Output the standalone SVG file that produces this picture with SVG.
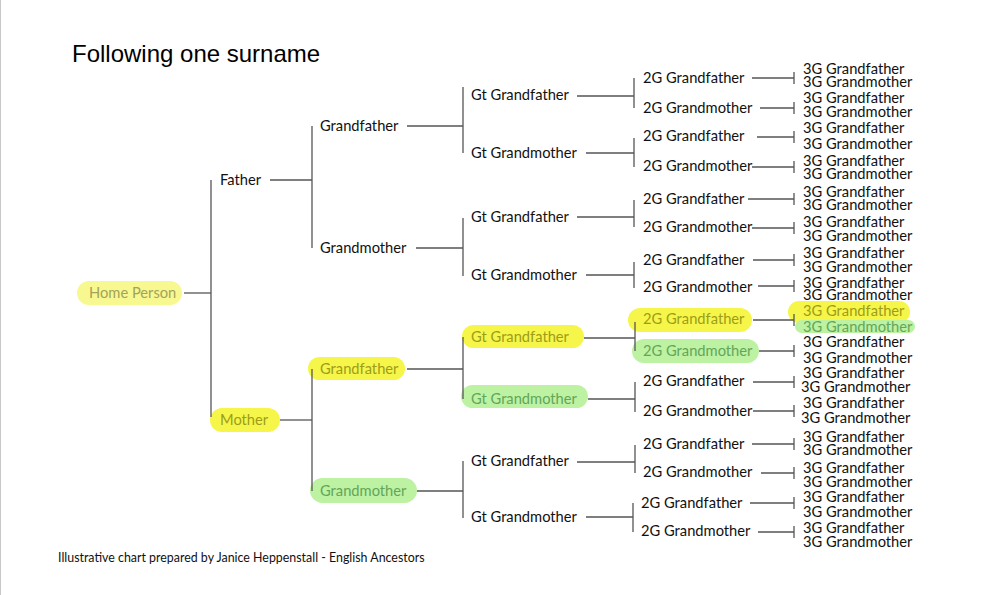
<svg xmlns="http://www.w3.org/2000/svg" width="1000" height="595" viewBox="0 0 1000 595">
<style>
text{font-family:Lato,"Open Sans","Liberation Sans",sans-serif;font-size:14.7px;fill:#111}
.title{font-family:"Liberation Sans",Arial,sans-serif;font-size:24px;fill:#000}
.foot{font-size:12.4px}
.c line{stroke:#555;stroke-width:1.3}
.py{fill:#f6f64a}
.pp{fill:#f8f890}
.pg{fill:#bdf2a2}
.ty{fill:#9d9d18}
.tp{fill:#a3a35a}
.tg{fill:#62a65a}
</style>
<rect x="0" y="0" width="1000" height="595" fill="#fff"/>
<line x1="0.5" y1="0" x2="0.5" y2="595" stroke="#c8c8c8" stroke-width="1"/>
<text class="title" x="72" y="62">Following one surname</text>

<g id="home"><rect class="pp" x="77" y="281" width="105" height="24" rx="12"/><text class="tp" x="89" y="298">Home Person</text></g>
<g id="father"><text x="220" y="185">Father</text></g>
<g id="mother"><rect class="py" x="210" y="408" width="70" height="24" rx="12"/><text class="ty" x="220" y="425">Mother</text></g>

<g id="gf1"><text x="320" y="131">Grandfather</text></g>
<g id="gm1"><text x="320" y="253">Grandmother</text></g>
<g id="gf2"><rect class="py" x="308" y="357" width="97" height="23" rx="11.5"/><text class="ty" x="320" y="374">Grandfather</text></g>
<g id="gm2"><rect class="pg" x="310" y="478" width="107" height="25" rx="12.5"/><text class="tg" x="320" y="496">Grandmother</text></g>

<g id="ggf1"><text x="471" y="100">Gt Grandfather</text></g>
<g id="ggm1"><text x="471" y="158">Gt Grandmother</text></g>
<g id="ggf2"><text x="471" y="222">Gt Grandfather</text></g>
<g id="ggm2"><text x="471" y="280">Gt Grandmother</text></g>
<g id="ggf3"><rect class="py" x="462" y="325" width="122" height="23" rx="11.5"/><text class="ty" x="471" y="342">Gt Grandfather</text></g>
<g id="ggm3"><rect class="pg" x="461" y="385" width="127" height="23" rx="11.5"/><text class="tg" x="471" y="404">Gt Grandmother</text></g>
<g id="ggf4"><text x="471" y="466">Gt Grandfather</text></g>
<g id="ggm4"><text x="471" y="522">Gt Grandmother</text></g>

<g id="g2f1"><text x="643" y="83">2G Grandfather</text></g>
<g id="g2m1"><text x="643" y="113">2G Grandmother</text></g>
<g id="g2f2"><text x="643" y="141">2G Grandfather</text></g>
<g id="g2m2"><text x="643" y="171">2G Grandmother</text></g>
<g id="g2f3"><text x="643" y="204">2G Grandfather</text></g>
<g id="g2m3"><text x="643" y="232">2G Grandmother</text></g>
<g id="g2f4"><text x="643" y="265">2G Grandfather</text></g>
<g id="g2m4"><text x="643" y="292">2G Grandmother</text></g>
<g id="g2f5"><rect class="py" x="628" y="308" width="124" height="24" rx="12"/><text class="ty" x="643" y="324">2G Grandfather</text></g>
<g id="g2m5"><rect class="pg" x="632" y="339" width="127" height="24" rx="12"/><text class="tg" x="643" y="356">2G Grandmother</text></g>
<g id="g2f6"><text x="643" y="386">2G Grandfather</text></g>
<g id="g2m6"><text x="643" y="416">2G Grandmother</text></g>
<g id="g2f7"><text x="643" y="449">2G Grandfather</text></g>
<g id="g2m7"><text x="643" y="477">2G Grandmother</text></g>
<g id="g2f8"><text x="641" y="508">2G Grandfather</text></g>
<g id="g2m8"><text x="641" y="536">2G Grandmother</text></g>

<g id="g3-1"><text x="803" y="74">3G Grandfather</text><text x="803" y="87">3G Grandmother</text></g>
<g id="g3-2"><text x="803" y="103">3G Grandfather</text><text x="803" y="117">3G Grandmother</text></g>
<g id="g3-3"><text x="803" y="133">3G Grandfather</text><text x="803" y="149">3G Grandmother</text></g>
<g id="g3-4"><text x="803" y="166">3G Grandfather</text><text x="803" y="179">3G Grandmother</text></g>
<g id="g3-5"><text x="803" y="197">3G Grandfather</text><text x="803" y="210">3G Grandmother</text></g>
<g id="g3-6"><text x="803" y="227">3G Grandfather</text><text x="803" y="241">3G Grandmother</text></g>
<g id="g3-7"><text x="803" y="258">3G Grandfather</text><text x="803" y="272">3G Grandmother</text></g>
<g id="g3-8"><text x="803" y="288">3G Grandfather</text><text x="803" y="300">3G Grandmother</text></g>
<g id="g3-9"><rect class="py" x="788" y="301" width="122" height="22" rx="11"/><rect class="pg" x="795" y="320" width="120" height="13" rx="6.5"/><text class="ty" x="803" y="316">3G Grandfather</text><text class="tg" x="803" y="332">3G Grandmother</text></g>
<g id="g3-10"><text x="803" y="347">3G Grandfather</text><text x="803" y="363">3G Grandmother</text></g>
<g id="g3-11"><text x="803" y="378">3G Grandfather</text><text x="801" y="392">3G Grandmother</text></g>
<g id="g3-12"><text x="803" y="408">3G Grandfather</text><text x="801" y="423">3G Grandmother</text></g>
<g id="g3-13"><text x="803" y="442">3G Grandfather</text><text x="803" y="455">3G Grandmother</text></g>
<g id="g3-14"><text x="803" y="473">3G Grandfather</text><text x="803" y="487">3G Grandmother</text></g>
<g id="g3-15"><text x="803" y="502">3G Grandfather</text><text x="803" y="517">3G Grandmother</text></g>
<g id="g3-16"><text x="803" y="533">3G Grandfather</text><text x="803" y="547">3G Grandmother</text></g>

<g class="c" id="connectors">
<line x1="184" y1="293" x2="211" y2="293"/>
<line x1="211" y1="180" x2="211" y2="417"/>
<line x1="270" y1="180" x2="312" y2="180"/>
<line x1="312" y1="126" x2="312" y2="248"/>
<line x1="280" y1="420" x2="312" y2="420"/>
<line x1="312" y1="369" x2="312" y2="491"/>
<line x1="407" y1="126" x2="463" y2="126"/>
<line x1="463" y1="87" x2="463" y2="153"/>
<line x1="416" y1="248" x2="463" y2="248"/>
<line x1="463" y1="218" x2="463" y2="276"/>
<line x1="407" y1="369" x2="463" y2="369"/>
<line x1="463" y1="337" x2="463" y2="399"/>
<line x1="417" y1="491" x2="463" y2="491"/>
<line x1="463" y1="461" x2="463" y2="518"/>
<line x1="577" y1="96" x2="634" y2="96"/>
<line x1="634" y1="78" x2="634" y2="108"/>
<line x1="586" y1="153" x2="634" y2="153"/>
<line x1="634" y1="138" x2="634" y2="167"/>
<line x1="577" y1="217" x2="634" y2="217"/>
<line x1="634" y1="200" x2="634" y2="227"/>
<line x1="586" y1="275" x2="634" y2="275"/>
<line x1="634" y1="262" x2="634" y2="288"/>
<line x1="584" y1="338" x2="635" y2="338"/>
<line x1="635" y1="322" x2="635" y2="351"/>
<line x1="588" y1="399" x2="635" y2="399"/>
<line x1="635" y1="382" x2="635" y2="412"/>
<line x1="577" y1="462" x2="635" y2="462"/>
<line x1="635" y1="445" x2="635" y2="473"/>
<line x1="586" y1="517" x2="633" y2="517"/>
<line x1="633" y1="503" x2="633" y2="532"/>
<line x1="752" y1="78" x2="794" y2="78"/><line x1="794" y1="72" x2="794" y2="84"/>
<line x1="760" y1="108" x2="794" y2="108"/><line x1="794" y1="102" x2="794" y2="114"/>
<line x1="757" y1="137" x2="794" y2="137"/><line x1="794" y1="131" x2="794" y2="143"/>
<line x1="752" y1="167" x2="794" y2="167"/><line x1="794" y1="161" x2="794" y2="173"/>
<line x1="748" y1="199" x2="794" y2="199"/><line x1="794" y1="193" x2="794" y2="205"/>
<line x1="752" y1="228" x2="794" y2="228"/><line x1="794" y1="222" x2="794" y2="234"/>
<line x1="753" y1="260" x2="794" y2="260"/><line x1="794" y1="254" x2="794" y2="266"/>
<line x1="758" y1="286" x2="794" y2="286"/><line x1="794" y1="280" x2="794" y2="292"/>
<line x1="753" y1="320" x2="794" y2="320"/><line x1="794" y1="314" x2="794" y2="326"/>
<line x1="759" y1="351" x2="794" y2="351"/><line x1="794" y1="345" x2="794" y2="357"/>
<line x1="753" y1="382" x2="794" y2="382"/><line x1="794" y1="376" x2="794" y2="388"/>
<line x1="753" y1="411" x2="794" y2="411"/><line x1="794" y1="405" x2="794" y2="417"/>
<line x1="752" y1="444" x2="794" y2="444"/><line x1="794" y1="438" x2="794" y2="450"/>
<line x1="761" y1="473" x2="794" y2="473"/><line x1="794" y1="467" x2="794" y2="479"/>
<line x1="750" y1="503" x2="794" y2="503"/><line x1="794" y1="497" x2="794" y2="509"/>
<line x1="758" y1="532" x2="794" y2="532"/><line x1="794" y1="526" x2="794" y2="538"/>
</g>

<text class="foot" x="58" y="562">Illustrative chart prepared by Janice Heppenstall - English Ancestors</text>
</svg>
